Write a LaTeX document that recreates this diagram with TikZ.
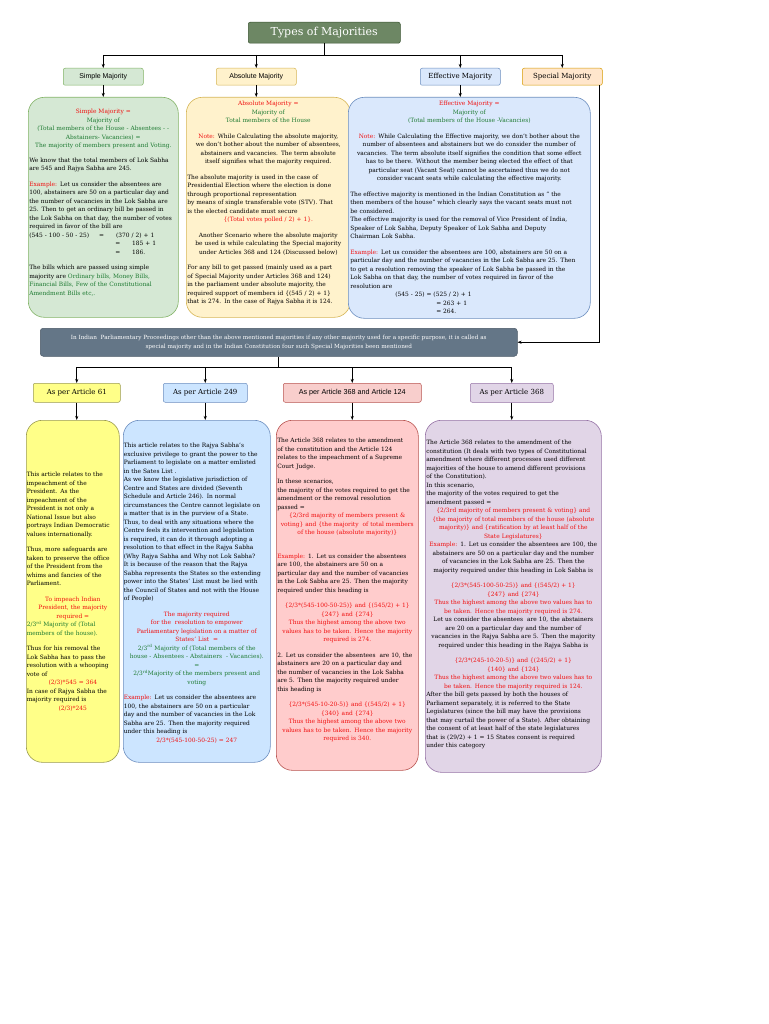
\documentclass[tikz,border=0pt]{standalone}
\usepackage{fontspec}
\setmainfont{DejaVu Serif}
\setsansfont{Liberation Sans}
\usetikzlibrary{arrows.meta}
\definecolor{myred}{HTML}{F01010}
\definecolor{mygrn}{HTML}{1E7A32}
\definecolor{ctitle}{HTML}{6D8764}\definecolor{ctitleb}{HTML}{3A5431}
\definecolor{cgf}{HTML}{D5E8D4}\definecolor{cgd}{HTML}{82B366}
\definecolor{cyf}{HTML}{FFF2CC}\definecolor{cyd}{HTML}{D6B656}
\definecolor{cbf}{HTML}{DAE8FC}\definecolor{cbd}{HTML}{6C8EBF}
\definecolor{cof}{HTML}{FFE6CC}\definecolor{cod}{HTML}{D79B00}
\definecolor{csum}{HTML}{647687}\definecolor{csumd}{HTML}{4A5866}
\definecolor{cyy}{HTML}{FFFF88}\definecolor{cyyd}{HTML}{9A9A50}
\definecolor{clb}{HTML}{CCE5FF}
\definecolor{cpf}{HTML}{FFCCCC}\definecolor{cph}{HTML}{F8CECC}\definecolor{cpd}{HTML}{B85450}
\definecolor{cvf}{HTML}{E1D5E7}\definecolor{cvd}{HTML}{9673A6}
\newcommand\myr[1]{\textcolor{myred}{#1}}
\newcommand\myg[1]{\textcolor{mygrn}{#1}}
\newcommand\gap{\par\vspace{7pt}}
\newcommand\rdsup{\textsuperscript{rd}}
\tikzset{
 bx/.style={rounded corners=16pt, line width=0.6pt, anchor=north west},
 hd/.style={rounded corners=2pt, line width=0.5pt, anchor=north west, font=\fontsize{7}{8}\selectfont, inner sep=0pt},
 txt/.style={anchor=north, align=left, inner sep=0pt, font=\fontsize{5.9}{8.5}\selectfont},
 arr/.style={-{Stealth[length=4pt,width=3pt]}, line width=0.6pt},
 ln/.style={line width=0.6pt}
}
\begin{document}
\begin{tikzpicture}[x=1pt,y=-1pt]
\useasboundingbox[fill=white] (0,0) rectangle (768,1024);
% title
\node[hd, fill=ctitle, draw=ctitleb, minimum width=152pt, minimum height=21pt, font=\fontsize{11}{12}\selectfont, text=white] (title) at (248,22) {Types of Majorities};
% headers
\node[hd, fill=cgf, draw=cgd, minimum width=80pt, minimum height=17pt, font=\sffamily\fontsize{7}{8}\selectfont] (hs) at (63,68) {Simple Majority};
\node[hd, fill=cyf, draw=cyd, minimum width=80pt, minimum height=17pt, font=\sffamily\fontsize{7}{8}\selectfont] (ha) at (216,68) {Absolute Majority};
\node[hd, fill=cbf, draw=cbd, minimum width=80pt, minimum height=17pt] (he) at (420,68) {Effective Majority};
\node[hd, fill=cof, draw=cod, minimum width=80pt, minimum height=17pt] (hp) at (522,68) {Special Majority};
\coordinate (bus1) at (0,55);
\draw[ln] (title.south) -- (title.south |- bus1);
\draw[ln] (hs.north |- bus1) -- (hp.north |- bus1);
\foreach \h in {hs,ha,he,hp} \draw[arr] (\h.north |- bus1) -- (\h.north);
% upper boxes
\node[bx, fill=cgf, draw=cgd, minimum width=150pt, minimum height=220pt] (bs) at (28,97) {};
\node[bx, fill=cyf, draw=cyd, minimum width=164pt, minimum height=220pt] (ba) at (186,97) {};
\node[bx, fill=cbf, draw=cbd, minimum width=242pt, minimum height=221pt] (be) at (348,97) {};
\foreach \h/\b in {hs/bs,ha/ba,he/be} \draw[arr] (\h.south) -- (\h.south |- \b.north);

\node[txt, text width=148pt] (ts) at ([yshift=-12pt]bs.north) {%
{\centering\myr{Simple Majority =}\\ \myg{Majority of}\\ \myg{(Total members of the House - Absentees - -}\\ \myg{Abstainers- Vacancies) =}\\ \myg{The majority of members present and Voting.}\par}
\vspace{6pt}\raggedright
We know that the total members of Lok Sabha\\ are 545 and Rajya Sabha are 245.\gap
\myr{Example:} Let us consider the absentees are\\ 100, abstainers are 50 on a particular day and\\ the number of vacancies in the Lok Sabha are\\ 25. Then to get an ordinary bill be passed in\\ the Lok Sabha on that day, the number of votes\\ required in favor of the bill are\\
(545 - 100 - 50 - 25)\hspace{10pt}=\hspace{12pt}(370 / 2) + 1\\
\hspace{86pt}=\hspace{12pt}185 + 1\\
\hspace{86pt}=\hspace{12pt}186.\gap
The bills which are passed using simple\\ majority are \myg{Ordinary bills, Money Bills,}\\ \myg{Financial Bills, Few of the Constitutional}\\ \myg{Amendment Bills etc,.}};

\node[txt, text width=162pt] (ta) at ([yshift=-4pt]ba.north) {%
{\centering\myr{Absolute Majority =}\\ \myg{Majority of}\\ \myg{Total members of the House}\par}
\vspace{7pt}
{\centering\myr{Note:} While Calculating the absolute majority,\\ we don't bother about the number of absentees,\\ abstainers and vacancies. The term absolute\\ itself signifies what the majority required.\par}
\vspace{7pt}\raggedright
The absolute majority is used in the case of\\ Presidential Election where the election is done\\ through proportional representation\\ by means of single transferable vote (STV). That\\ is the elected candidate must secure\par
{\centering\myr{\{(Total votes polled / 2) + 1\}.}\par}
\vspace{7pt}
{\centering Another Scenario where the absolute majority\\ be used is while calculating the Special majority\\ under Articles 368 and 124 (Discussed below)\par}
\vspace{7pt}\raggedright
For any bill to get passed (mainly used as a part\\ of Special Majority under Articles 368 and 124)\\ in the parliament under absolute majority, the\\ required support of members id \{(545 / 2) + 1\}\\ that is 274. In the case of Rajya Sabha it is 124.};

\node[txt, text width=238pt] (te) at ([yshift=-4pt]be.north) {%
{\centering\myr{Effective Majority =}\\ \myg{Majority of}\\ \myg{(Total members of the House -Vacancies)}\par}
\vspace{7pt}
{\centering\myr{Note:} While Calculating the Effective majority, we don't bother about the\\ number of absentees and abstainers but we do consider the number of\\ vacancies. The term absolute itself signifies the condition that some effect\\ has to be there. Without the member being elected the effect of that\\ particular seat (Vacant Seat) cannot be ascertained thus we do not\\ consider vacant seats while calculating the effective majority.\par}
\vspace{7pt}\raggedright
The effective majority is mentioned in the Indian Constitution as " the\\ then members of the house" which clearly says the vacant seats must not\\ be considered.\\ The effective majority is used for the removal of Vice President of India,\\ Speaker of Lok Sabha, Deputy Speaker of Lok Sabha and Deputy\\ Chairman Lok Sabha.\gap
\myr{Example:} Let us consider the absentees are 100, abstainers are 50 on a\\ particular day and the number of vacancies in the Lok Sabha are 25. Then\\ to get a resolution removing the speaker of Lok Sabha be passed in the\\ Lok Sabha on that day, the number of votes required in favor of the\\ resolution are\\
\hspace{45pt}(545 - 25) = (525 / 2) + 1\\
\hspace{86pt}= 263 + 1\\
\hspace{86pt}= 264.};

% summary
\node[hd, fill=csum, draw=csumd, rounded corners=3pt, minimum width=477pt, minimum height=28pt, text=white, align=center, font=\fontsize{5.7}{8.5}\selectfont] (sum) at (40,328) {In Indian\ \ Parliamentary Proceedings other than the above mentioned majorities if any other majority used for a specific purpose, it is called as\\ special majority and in the Indian Constitution four such Special Majorities been mentioned};
\draw[arr] ([xshift=-3pt]hp.south east) |- (sum.east);

% lower headers
\node[hd, fill=cyy, draw=cyyd, minimum width=87pt, minimum height=19pt] (h61) at (33,383) {As per Article 61};
\node[hd, fill=clb, draw=cbd, minimum width=84pt, minimum height=19pt] (h249) at (163,383) {As per Article 249};
\node[hd, fill=cph, draw=cpd, minimum width=138pt, minimum height=19pt, font=\sffamily\fontsize{7.2}{8}\selectfont] (h124) at (283,383) {As per Article 368 and Article 124};
\node[hd, fill=cvf, draw=cvd, minimum width=83pt, minimum height=19pt] (h368) at (470,383) {As per Article 368};
\coordinate (bus2) at (0,367);
\draw[ln] (sum.south) -- (sum.south |- bus2);
\draw[ln] (h61.north |- bus2) -- (h368.north |- bus2);
\foreach \h in {h61,h249,h124,h368} \draw[arr] (\h.north |- bus2) -- (\h.north);

% lower boxes
\node[bx, fill=cyy, draw=cyyd, minimum width=93pt, minimum height=342pt] (b61) at (26,420) {};
\node[bx, fill=clb, draw=cbd, minimum width=147pt, minimum height=342pt] (b249) at (123,420) {};
\node[bx, fill=cpf, draw=cpd, minimum width=142pt, minimum height=350pt] (b124) at (276,420) {};
\node[bx, fill=cvf, draw=cvd, minimum width=176pt, minimum height=352pt] (b368) at (425,420) {};
\foreach \h/\b in {h61/b61,h249/b249,h124/b124,h368/b368} \draw[arr] (\h.south) -- (\h.south |- \b.north);

\node[txt, text width=92pt] (t61) at ([yshift=-52pt]b61.north) {\raggedright
This article relates to the\\ impeachment of the\\ President. As the\\ impeachment of the\\ President is not only a\\ National Issue but also\\ portrays Indian Democratic\\ values internationally.\gap
Thus, more safeguards are\\ taken to preserve the office\\ of the President from the\\ whims and fancies of the\\ Parliament.\gap
{\centering\myr{To impeach Indian}\\ \myr{President, the majority}\\ \myr{required =}\par}\raggedright
\myg{2/3\rdsup\ Majority of (Total}\\ \myg{members of the house).}\gap
Thus for his removal the\\ Lok Sabha has to pass the\\ resolution with a whooping\\ vote of\par
{\centering\myr{(2/3)*545 = 364}\par}\raggedright
In case of Rajya Sabha the\\ majority required is\par
{\centering\myr{(2/3)*245}\par}};

\node[txt, text width=146pt] (t249) at ([yshift=-23pt]b249.north) {\raggedright
This article relates to the Rajya Sabha's\\ exclusive privilege to grant the power to the\\ Parliament to legislate on a matter emlisted\\ in the Sates List .\\ As we know the legislative jurisdiction of\\ Centre and States are divided (Seventh\\ Schedule and Article 246). In normal\\ circumstances the Centre cannot legislate on\\ a matter that is in the purview of a State.\\ Thus, to deal with any situations where the\\ Centre feels its intervention and legislation\\ is required, it can do it through adopting a\\ resolution to that effect in the Rajya Sabha\\ (Why Rajya Sabha and Why not Lok Sabha?\\ It is because of the reason that the Rajya\\ Sabha represents the States so the extending\\ power into the States' List must be lied with\\ the Council of States and not with the House\\ of People)\gap
{\centering\myr{The majority required}\\ \myr{for the\ \ resolution to empower}\\ \myr{Parliamentary legislation on a matter of}\\ \myr{States' List\ \ =}\\
\myg{2/3\rdsup\ Majority of (Total members of the}\\ \myg{house - Absentees - Abstainers\ \ - Vacancies).}\\ \myg{=}\\ \myg{2/3\rdsup Majority of the members present and}\\ \myg{voting}\par}
\vspace{7pt}\raggedright
\myr{Example:} Let us consider the absentees are\\ 100, the abstainers are 50 on a particular\\ day and the number of vacancies in the Lok\\ Sabha are 25. Then the majority required\\ under this heading is\par
{\centering\myr{2/3*(545-100-50-25) = 247}\par}};

\node[txt, text width=140pt] (t124) at ([yshift=-18pt]b124.north) {\raggedright
The Article 368 relates to the amendment\\ of the constitution and the Article 124\\ relates to the impeachment of a Supreme\\ Court Judge.\gap
In these scenarios,\\ the majority of the votes required to get the\\ amendment or the removal resolution\\ passed =\par
{\centering\myr{\{2/3rd majority of members present \&}\\ \myr{voting\} and \{the majority\ \ of total members}\\ \myr{of the house (absolute majority)\}}\par}
\vspace{15pt}\raggedright
\myr{Example:} 1. Let us consider the absentees\\ are 100, the abstainers are 50 on a\\ particular day and the number of vacancies\\ in the Lok Sabha are 25. Then the majority\\ required under this heading is\gap
{\centering\myr{\{2/3*(545-100-50-25)\} and \{(545/2) + 1\}}\\ \myr{\{247\} and \{274\}}\\ \myr{Thus the highest among the above two}\\ \myr{values has to be taken. Hence the majority}\\ \myr{required is 274.}\par}
\vspace{7pt}\raggedright
2. Let us consider the absentees\ \ are 10, the\\ abstainers are 20 on a particular day and\\ the number of vacancies in the Lok Sabha\\ are 5. Then the majority required under\\ this heading is\gap
{\centering\myr{\{2/3*(545-10-20-5)\} and \{(545/2) + 1\}}\\ \myr{\{340\} and \{274\}}\\ \myr{Thus the highest among the above two}\\ \myr{values has to be taken. Hence the majority}\\ \myr{required is 340.}\par}};

\node[txt, text width=174pt] (t368) at ([yshift=-20pt]b368.north) {\raggedright
The Article 368 relates to the amendment of the\\ constitution (It deals with two types of Constitutional\\ amendment where different processes used different\\ majorities of the house to amend different provisions\\ of the Constitution).\\ In this scenario,\\ the majority of the votes required to get the\\ amendment passed =\par
{\centering\myr{\{2/3rd majority of members present \& voting\} and}\\ \myr{\{the majority of total members of the house (absolute}\\ \myr{majority)\} and \{ratification by at least half of the}\\ \myr{State Legislatures\}}\\
\myr{Example:} 1. Let us consider the absentees are 100, the\\ abstainers are 50 on a particular day and the number\\ of vacancies in the Lok Sabha are 25. Then the\\ majority required under this heading in Lok Sabha is\par}
\vspace{7pt}
{\centering\myr{\{2/3*(545-100-50-25)\} and \{(545/2) + 1\}}\\ \myr{\{247\} and \{274\}}\\ \myr{Thus the highest among the above two values has to}\\ \myr{be taken. Hence the majority required is 274.}\\
Let us consider the absentees\ \ are 10, the abstainers\\ are 20 on a particular day and the number of\\ vacancies in the Rajya Sabha are 5. Then the majority\\ required under this heading in the Rajya Sabha is\par}
\vspace{7pt}
{\centering\myr{\{2/3*(245-10-20-5)\} and \{(245/2) + 1\}}\\ \myr{\{140\} and \{124\}}\\ \myr{Thus the highest among the above two values has to}\\ \myr{be taken. Hence the majority required is 124.}\par}
\raggedright
After the bill gets passed by both the houses of\\ Parliament separately, it is referred to the State\\ Legislatures (since the bill may have the provisions\\ that may curtail the power of a State). After obtaining\\ the consent of at least half of the state legislatures\\ that is (29/2) + 1 = 15 States consent is required\\ under this category};
\end{tikzpicture}
\end{document}
